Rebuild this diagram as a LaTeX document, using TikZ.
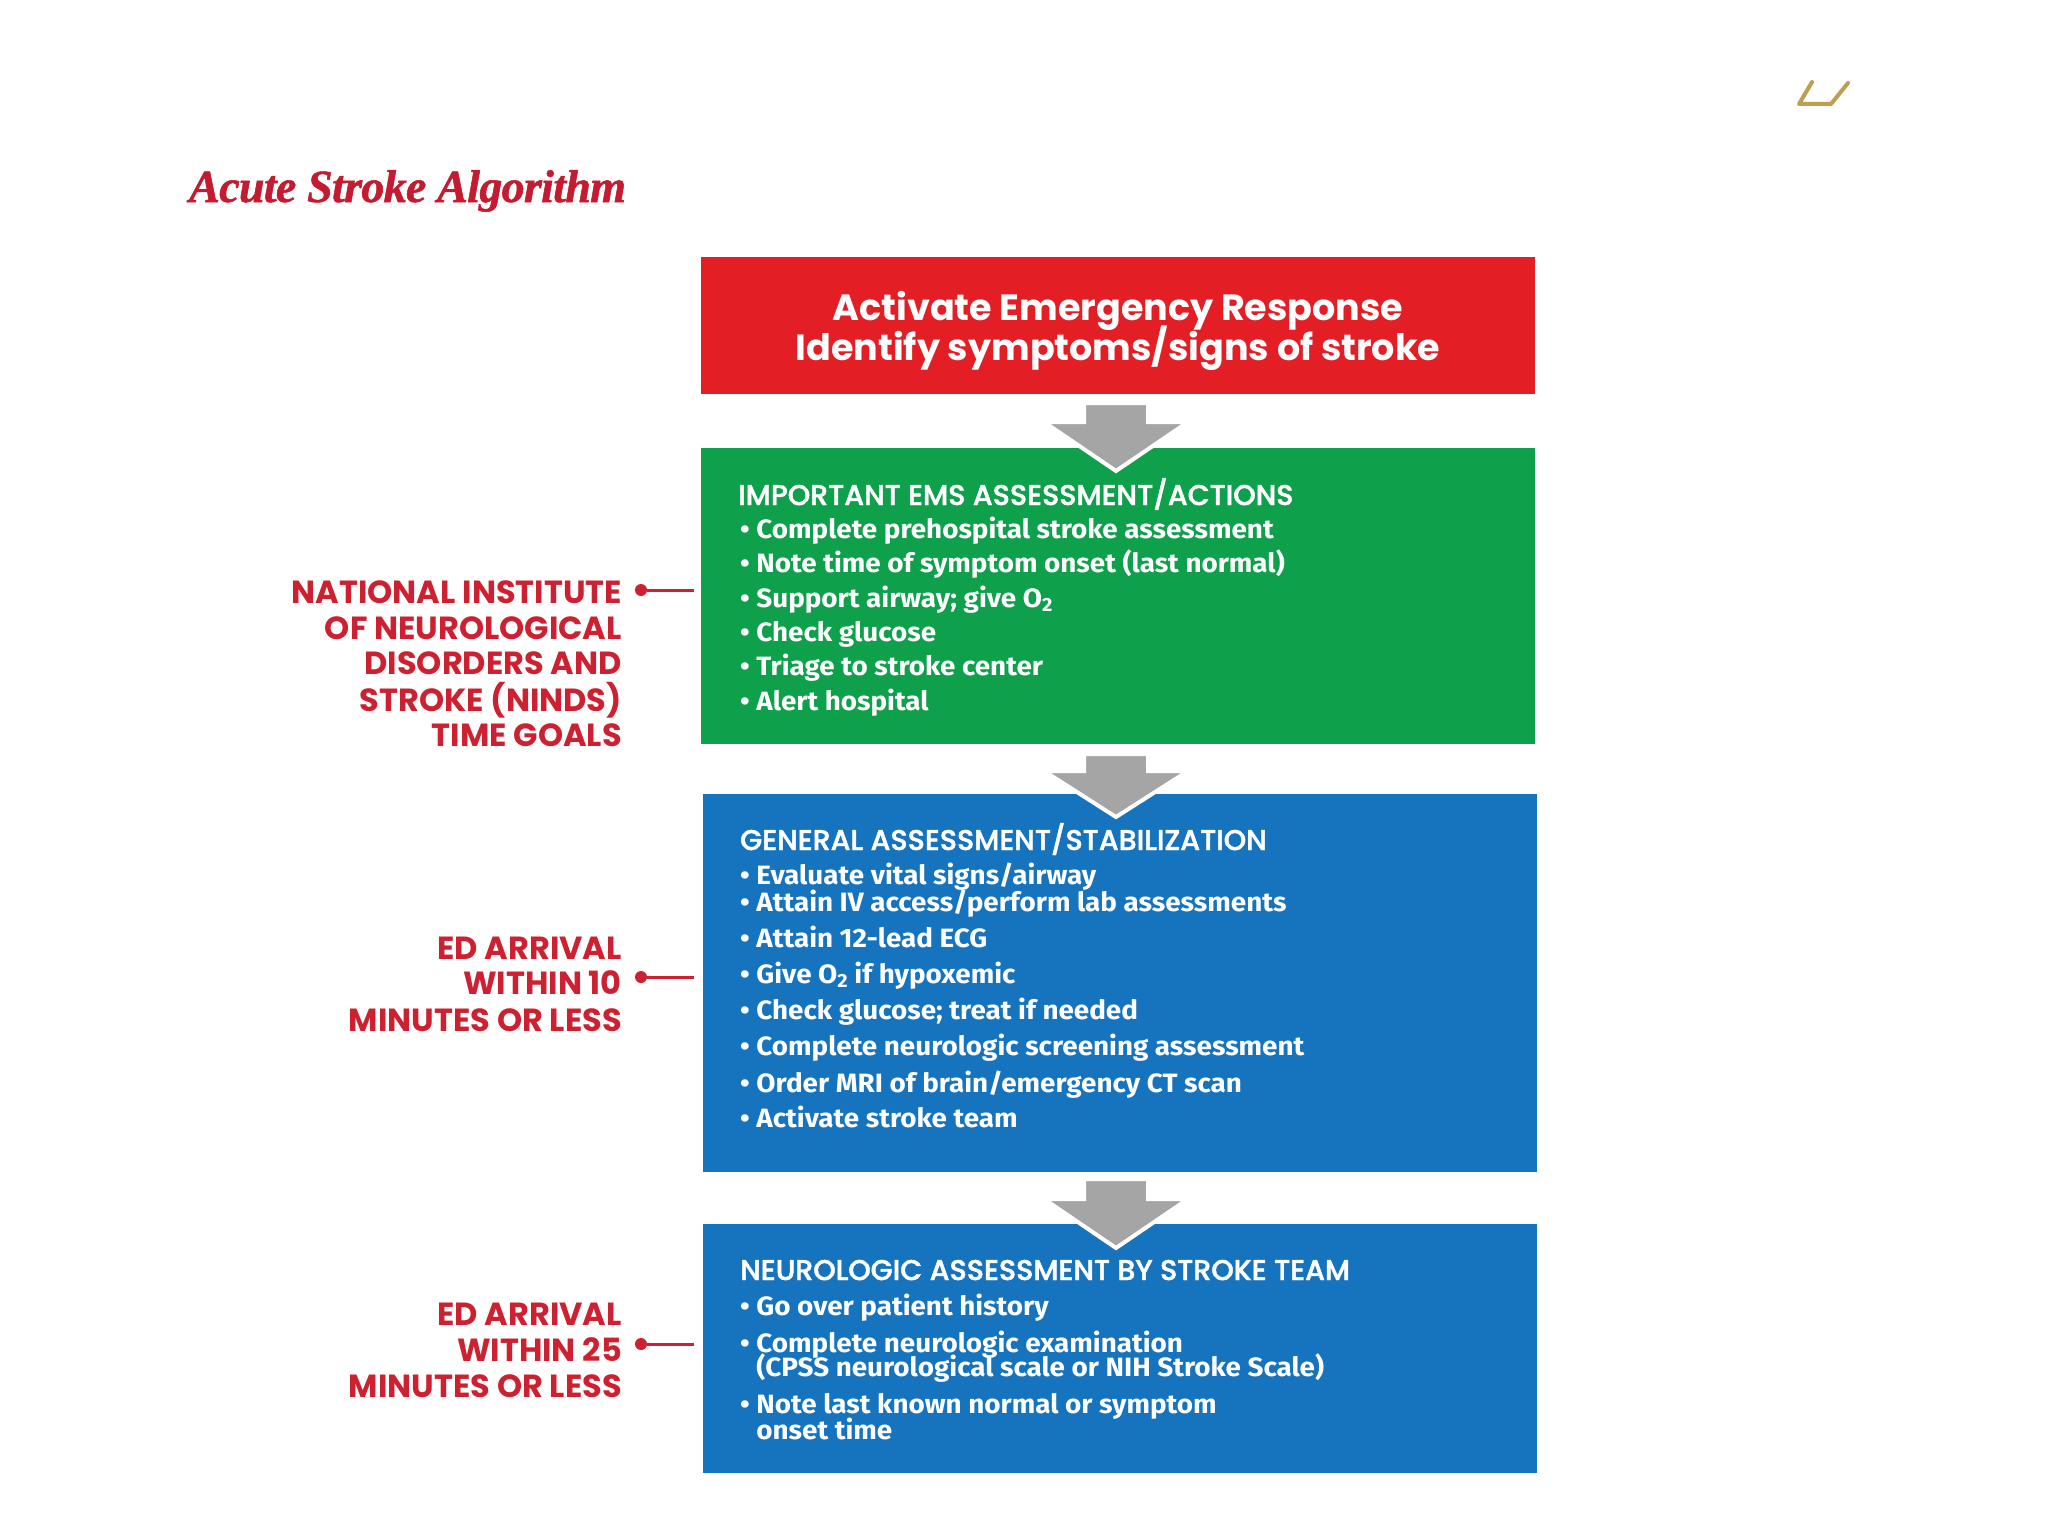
\documentclass[tikz,border=0pt]{standalone}
\usepackage{fontspec}
\setmainfont{Fira Sans}
\newfontfamily\lblfont{Poppins}
\newfontfamily\hdrfont{Poppins Medium}[FakeBold=1.6]
\newfontfamily\ttlfont{Liberation Serif}
\definecolor{rboxc}{RGB}{228,30,37}
\definecolor{gboxc}{RGB}{14,160,74}
\definecolor{bboxc}{RGB}{22,115,190}
\definecolor{arrc}{RGB}{165,165,165}
\definecolor{lblred}{RGB}{205,32,48}
\definecolor{ttlred}{RGB}{195,28,48}
\definecolor{goldc}{RGB}{190,158,80}
\newcommand{\Otwo}{O\raisebox{-0.3ex}{\scalebox{0.72}{2}}}
\newcommand{\bx}[1]{\scalebox{1.05}[1]{#1}}
\begin{document}
\begin{tikzpicture}[x=1pt,y=-1pt,
  box/.style={draw=none, inner sep=0pt, outer sep=0pt},
  bul/.style={inner sep=0pt, anchor=base west, text=white, font=\bfseries\fontsize{26.5}{30}\selectfont},
  hdr/.style={inner sep=0pt, anchor=base west, text=white, font=\hdrfont\fontsize{28.5}{30}\selectfont},
  redtitle/.style={inner sep=0pt, anchor=base, text=white, font=\lblfont\bfseries\fontsize{36.5}{40}\selectfont},
  lbl/.style={inner sep=0pt, anchor=base east, text=lblred, font=\lblfont\bfseries\fontsize{32}{36}\selectfont},
  grayarrow/.style={fill=arrc, draw=white, line width=4pt, line join=miter},
  dotmark/.style={circle, fill=lblred, inner sep=0pt, minimum size=12pt},
  tick/.style={draw=lblred, line width=3pt}
]
\useasboundingbox (0,0) rectangle (2048,1536);
\fill[white] (0,0) rectangle (2048,1536);

% title
\node[anchor=base west, inner sep=0pt, text=ttlred, font=\ttlfont\bfseries\itshape\fontsize{46}{52}\selectfont\addfontfeature{FakeBold=1.2,LetterSpace=-1.5}] (title) at (189,202) {Acute Stroke Algorithm};
% gold mark
\draw[goldc, line width=4pt, line join=round, line cap=round] (1812,82) -- (1799,104) -- (1831,104) -- (1848,83);

% boxes
\node[box, fill=rboxc, minimum width=834pt, minimum height=137pt] (red) at (1118,325.5) {};
\node[box, fill=gboxc, minimum width=834pt, minimum height=296pt] (green) at (1118,596) {};
\node[box, fill=bboxc, minimum width=834pt, minimum height=378pt] (blueA) at (1120,983) {};
\node[box, fill=bboxc, minimum width=834pt, minimum height=249pt] (blueB) at (1120,1348.5) {};

% arrows
\draw[grayarrow] (1084,403) -- (1148,403) -- (1148,422) -- (1188,422) -- (1116,471) -- (1044,422) -- (1084,422) -- cycle;
\draw[grayarrow] (1084,754) -- (1148,754) -- (1148,771) -- (1188,771) -- (1116,817) -- (1044,771) -- (1084,771) -- cycle;
\draw[grayarrow] (1084,1179) -- (1148,1179) -- (1148,1199) -- (1188,1199) -- (1116,1248) -- (1044,1199) -- (1084,1199) -- cycle;

% red box text
\node[redtitle] (redtxtA) at (1118,320) {Activate Emergency Response};
\node[redtitle] (redtxtB) at (1118,360) {Identify symptoms/signs of stroke};

% green box text
\node[hdr] (ghdr) at (738,505) {IMPORTANT EMS ASSESSMENT/ACTIONS};
\foreach \y/\t [count=\i] in {529/{Complete prehospital stroke assessment},563/{Note time of symptom onset (last normal)},598/{Support airway; give \Otwo},632/{Check glucose},666/{Triage to stroke center},701/{Alert hospital}}
  \node[bul] (g\i) at (740,\y+9) {\bx{\textbullet\ \t}};

% blue box A text
\node[hdr] (bahdr) at (740,850) {GENERAL ASSESSMENT/STABILIZATION};
\foreach \y/\t [count=\i] in {875/{Evaluate vital signs/airway},902/{Attain IV access/perform lab assessments},938/{Attain 12-lead ECG},974/{Give \Otwo\ if hypoxemic},1010/{Check glucose; treat if needed},1046/{Complete neurologic screening assessment},1083/{Order MRI of brain/emergency CT scan},1118/{Activate stroke team}}
  \node[bul] (ba\i) at (740,\y+9) {\bx{\textbullet\ \t}};

% blue box B text
\node[hdr] (bbhdr) at (740,1280) {NEUROLOGIC ASSESSMENT BY STROKE TEAM};
\foreach \y/\t [count=\i] in {1306/{\textbullet\ Go over patient history},1343/{\textbullet\ Complete neurologic examination},1367/{\phantom{\textbullet\ }(CPSS neurological scale or NIH Stroke Scale)},1404/{\textbullet\ Note last known normal or symptom},1430/{\phantom{\textbullet\ }onset time}}
  \node[bul] (bb\i) at (740,\y+9) {\bx{\t}};

% left labels
\foreach \y/\t [count=\i] in {592/{NATIONAL INSTITUTE},628/{OF NEUROLOGICAL},663/{DISORDERS AND},700/{STROKE (NINDS)},735/{TIME GOALS}}
  \node[lbl] (la\i) at (622,\y+11) {\t};
\foreach \y/\t [count=\i] in {948/{ED ARRIVAL},983/{WITHIN 10},1020/{MINUTES OR LESS}}
  \node[lbl] (lb\i) at (622,\y+11) {\t};
\foreach \y/\t [count=\i] in {1314/{ED ARRIVAL},1350/{WITHIN 25},1386/{MINUTES OR LESS}}
  \node[lbl] (lc\i) at (622,\y+11) {\t};

% dots and ticks
\node[dotmark] (da) at (641,590) {};
\coordinate (ea) at (694,590);
\draw[tick] (da) -- (ea);
\node[dotmark] (db) at (641,977) {};
\coordinate (eb) at (694,977);
\draw[tick] (db) -- (eb);
\node[dotmark] (dc) at (641,1344) {};
\coordinate (ec) at (694,1344);
\draw[tick] (dc) -- (ec);
\end{tikzpicture}
\end{document}
